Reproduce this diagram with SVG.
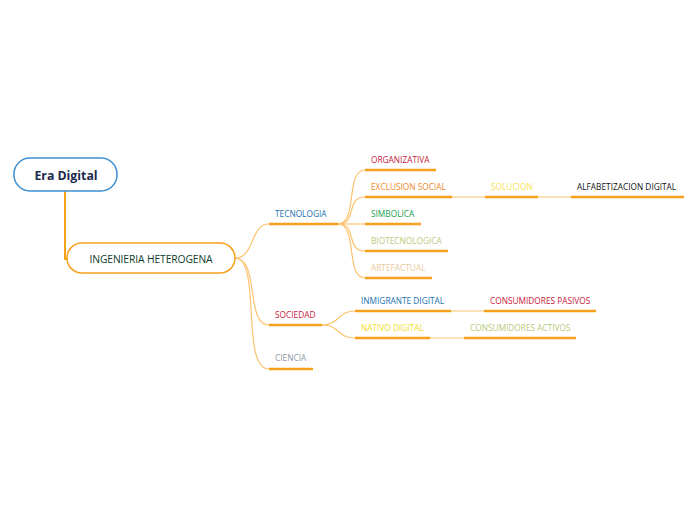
<svg xmlns="http://www.w3.org/2000/svg" width="696" height="520" viewBox="0 0 696 520">
<style>
text{font-family:"Open Sans","Noto Sans","Liberation Sans",sans-serif;font-size:8.3px}
.c{fill:none;stroke:#fbc36f;stroke-width:1.2}
.u{fill:none;stroke:#f7a01c;stroke-width:2.5}
</style>
<rect width="696" height="520" fill="#ffffff"/>
<g id="connectors">
<path class="c" d="M65 191 V259 H67" style="stroke:#f7a01c;stroke-width:2"/>
<path class="c" d="M235 258 C255 258,250 224,269 224"/>
<path class="c" d="M235 258 C260 258,245 325,269 325"/>
<path class="c" d="M235 258 C262 258,240 369,269 369"/>
<path class="c" d="M338 224 C358 224,345 170,365 170"/>
<path class="c" d="M338 224 C358 224,345 197,365 197"/>
<path class="c" d="M338 224 H365"/>
<path class="c" d="M338 224 C358 224,345 251,365 251"/>
<path class="c" d="M338 224 C358 224,345 278,365 278"/>
<path class="c" d="M452 197 H485"/>
<path class="c" d="M538 197 H571"/>
<path class="c" d="M322 325 C340 325,337 311,355 311"/>
<path class="c" d="M322 325 C340 325,337 338,355 338"/>
<path class="c" d="M451 311 H484"/>
<path class="c" d="M430 338 H464"/>
</g>
<g id="era-digital">
<rect x="14" y="158" width="103" height="33" rx="16" fill="#fff" stroke="#3d8fd1" stroke-width="1.5"/>
<text x="66" y="179.5" text-anchor="middle" style="font-size:12.3px;font-weight:bold;fill:#1b2a4e">Era Digital</text>
</g>
<g id="ingenieria">
<rect x="67" y="243" width="168" height="30" rx="15" fill="#fff" stroke="#f7a01c" stroke-width="1.5"/>
<text x="151" y="262.5" text-anchor="middle" style="font-size:10.3px;fill:#0f3d2a;font-weight:500;letter-spacing:-0.1px">INGENIERIA HETEROGENA</text>
</g>
<g id="tecnologia"><path class="u" d="M269 224 H338"/><text x="275" y="217" fill="#1b72b0">TECNOLOGIA</text></g>
<g id="organizativa"><path class="u" d="M365 170 H436"/><text x="371" y="163" fill="#c8173b">ORGANIZATIVA</text></g>
<g id="exclusion"><path class="u" d="M365 197 H452"/><text x="371" y="190" fill="#f08a2a">EXCLUSION SOCIAL</text></g>
<g id="simbolica"><path class="u" d="M365 224 H421"/><text x="371" y="217" fill="#17a04e">SIMBOLICA</text></g>
<g id="biotecnologica"><path class="u" d="M365 251 H448"/><text x="371" y="244" fill="#b7cb7c">BIOTECNOLOGICA</text></g>
<g id="artefactual"><path class="u" d="M365 278 H432"/><text x="371" y="271" fill="#ebc99c">ARTEFACTUAL</text></g>
<g id="solucion"><path class="u" d="M485 197 H538"/><text x="491" y="190" fill="#f7e354">SOLUCION</text></g>
<g id="alfabetizacion"><path class="u" d="M571 197 H684"/><text x="577" y="190" fill="#111111">ALFABETIZACION DIGITAL</text></g>
<g id="sociedad"><path class="u" d="M269 325 H322"/><text x="275" y="318" fill="#c8173b">SOCIEDAD</text></g>
<g id="inmigrante"><path class="u" d="M355 311 H451"/><text x="361" y="304" fill="#1b72b0">INMIGRANTE DIGITAL</text></g>
<g id="nativo"><path class="u" d="M355 338 H430"/><text x="361" y="331" fill="#f2dd1e">NATIVO DIGITAL</text></g>
<g id="pasivos"><path class="u" d="M484 311 H596"/><text x="490" y="304" fill="#c8173b">CONSUMIDORES PASIVOS</text></g>
<g id="activos"><path class="u" d="M464 338 H576"/><text x="470" y="331" fill="#b7cb7c">CONSUMIDORES ACTIVOS</text></g>
<g id="ciencia"><path class="u" d="M269 369 H313"/><text x="275" y="361" fill="#8d98a3">CIENCIA</text></g>
</svg>
